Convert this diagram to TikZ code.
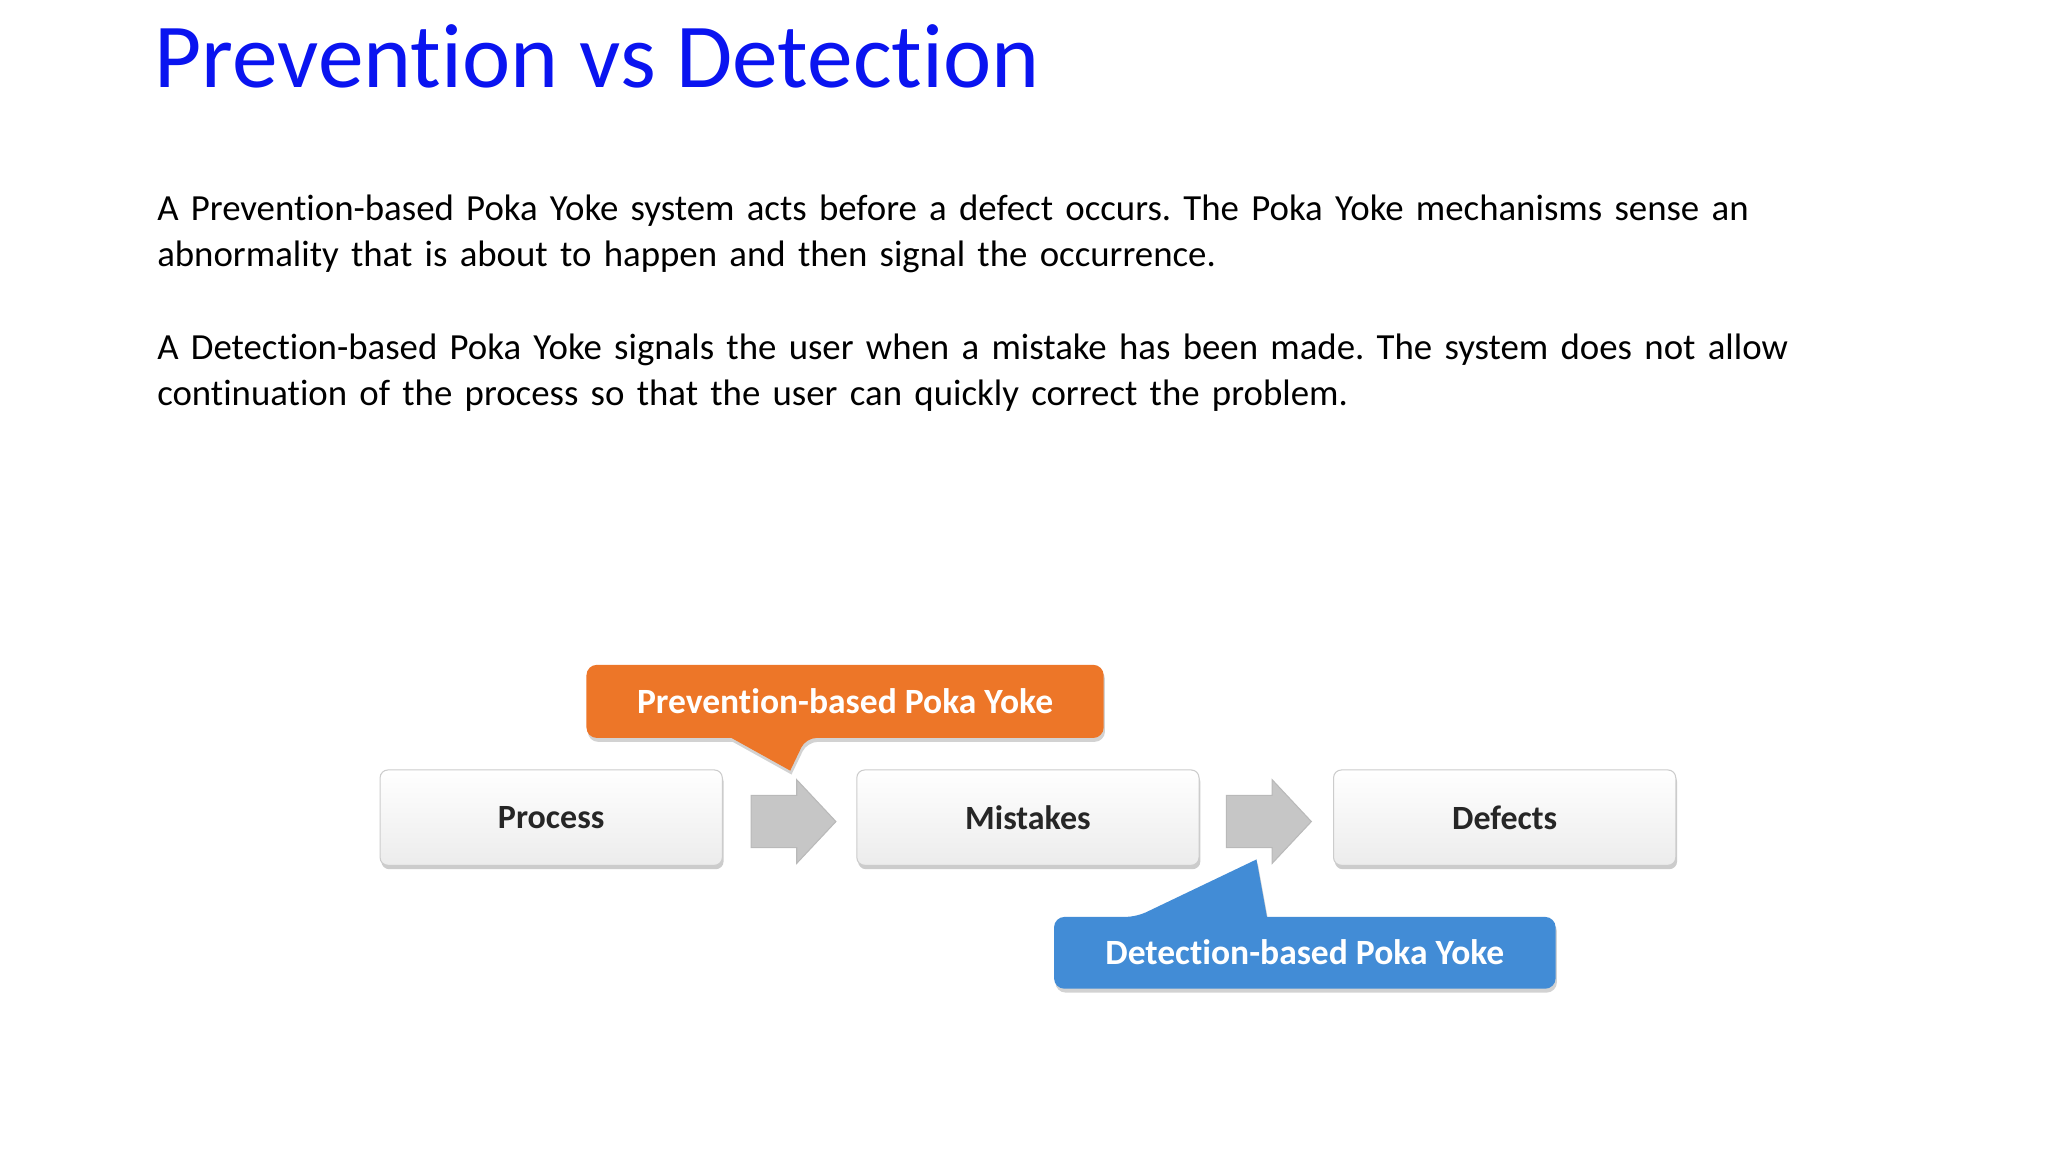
\documentclass[tikz,border=0pt]{standalone}
\usepackage{fontspec}
\setmainfont[Ligatures={NoCommon}]{Carlito}
\usetikzlibrary{shadows}
\definecolor{titleblue}{RGB}{10,20,240}
\definecolor{orng}{RGB}{237,118,40}
\definecolor{blu}{RGB}{66,140,214}
\tikzset{
 stepbox/.style={draw=gray!40,rounded corners=3pt,top color=white,bottom color=gray!15,minimum width=131pt,minimum height=36.5pt,font=\fontsize{13}{15}\selectfont\bfseries,text=black!85,drop shadow={shadow xshift=0.5pt,shadow yshift=-1.5pt,opacity=0.4}},
 arr/.style={fill=gray!45,draw=gray!55},
 body/.style={anchor=north west,align=left,font=\fontsize{14.1}{17.6}\selectfont\frenchspacing\raggedright,text width=720pt,inner sep=0pt}
}
\begin{document}
\begin{tikzpicture}[x=0.5pt,y=-0.5pt]
\useasboundingbox[fill=white] (0,0) rectangle (1568,882);
\node[anchor=west,inner sep=0pt,text=titleblue,font=\fontsize{35}{40}\selectfont] (title) at (118,43) {Prevention vs Detection};
\node[body] (p1) at (120,149) {A Prevention-based Poka Yoke system acts before a defect occurs. The Poka Yoke mechanisms sense an\\abnormality that is about to happen and then signal the occurrence.};
\node[body] (p2) at (120,255) {A Detection-based Poka Yoke signals the user when a mistake has been made. The system does not allow\\continuation of the process so that the user can quickly correct the problem.};
% step boxes
\node[stepbox] (proc) at (422,626) {Process};
\node[stepbox] (mist) at (787,626) {Mistakes};
\node[stepbox] (def) at (1152,626) {Defects};
% arrows
\draw[arr] (575,609) -- (610,609) -- (610,597) -- (640,629) -- (610,661) -- (610,649) -- (575,649) -- cycle;
\draw[arr] (939,609) -- (974,609) -- (974,597) -- (1004,629) -- (974,661) -- (974,649) -- (939,649) -- cycle;
% orange callout
\fill[orng,drop shadow={shadow xshift=0.5pt,shadow yshift=-1.5pt,opacity=0.35}] [rounded corners=4pt] (449,509) -- (845,509) -- (845,565) -- (617,565) [sharp corners] -- (605,590) -- (560,565) [rounded corners=4pt] -- (449,565) -- cycle;
\node[text=white,font=\fontsize{13.6}{15}\selectfont\bfseries] (prev) at (647,537) {Prevention-based Poka Yoke};
% blue callout
\fill[blu,drop shadow={shadow xshift=0.5pt,shadow yshift=-1.5pt,opacity=0.35}] [rounded corners=4pt] (807,702) -- (870,702) [sharp corners] -- (962,658) -- (970,702) [rounded corners=4pt] -- (1191,702) -- (1191,757) -- (807,757) -- cycle;
\node[text=white,font=\fontsize{13.6}{15}\selectfont\bfseries] (det) at (999,729) {Detection-based Poka Yoke};
\end{tikzpicture}
\end{document}
